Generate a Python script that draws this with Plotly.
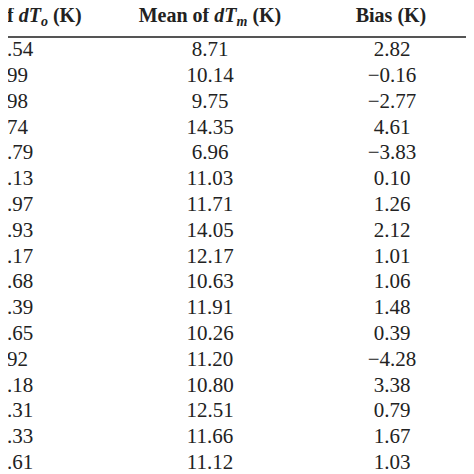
import plotly.graph_objects as go

# visible (cropped) first column, model mean, bias
obs_tail = [".54", "99", "98", "74", ".79", ".13", ".97", ".93", ".17",
            ".68", ".39", ".65", "92", ".18", ".31", ".33", ".61"]
mean_m = [8.71, 10.14, 9.75, 14.35, 6.96, 11.03, 11.71, 14.05, 12.17,
          10.63, 11.91, 10.26, 11.20, 10.80, 12.51, 11.66, 11.12]
bias = [2.82, -0.16, -2.77, 4.61, -3.83, 0.10, 1.26, 2.12, 1.01,
        1.06, 1.48, 0.39, -4.28, 3.38, 0.79, 1.67, 1.03]
headers = ["f <i>dT<sub>o</sub></i> (K)", "Mean of <i>dT<sub>m</sub></i> (K)", "Bias (K)"]

FONT = "Liberation Serif"
rows = list(range(1, len(mean_m) + 1))
y_of = lambda r: 43 + (r - 1) * 25.8


def fmt(v):
    s = f"{abs(v):.2f}"
    return ("\u2212" + s) if v < 0 else s


fig = go.Figure()

fig.add_trace(go.Scatter(
    x=[-1] * len(rows), y=[y_of(r) for r in rows], mode="text",
    text=obs_tail, textposition="middle right",
    textfont=dict(family=FONT, size=21, color="#222"), hoverinfo="skip"
))
fig.add_trace(go.Scatter(
    x=[202] * len(rows), y=[y_of(r) for r in rows], mode="text",
    text=[fmt(v) for v in mean_m], textposition="middle center",
    textfont=dict(family=FONT, size=21, color="#222"), hoverinfo="skip"
))
fig.add_trace(go.Scatter(
    x=[384] * len(rows), y=[y_of(r) for r in rows], mode="text",
    text=[fmt(v) for v in bias], textposition="middle center",
    textfont=dict(family=FONT, size=21, color="#222"), hoverinfo="skip"
))

# header row
fig.add_trace(go.Scatter(
    x=[-1], y=[9], mode="text", text=["<b>" + headers[0] + "</b>"],
    textposition="middle right",
    textfont=dict(family=FONT, size=20, color="#222"), hoverinfo="skip"
))
fig.add_trace(go.Scatter(
    x=[202, 383], y=[9, 9], mode="text",
    text=["<b>" + h + "</b>" for h in headers[1:]],
    textposition="middle center",
    textfont=dict(family=FONT, size=20, color="#222"), hoverinfo="skip"
))

fig.add_shape(type="line", x0=0, x1=474, y0=29, y1=29,
              line=dict(color="#555", width=2))

fig.update_layout(
    width=474, height=474,
    margin=dict(l=0, r=0, t=0, b=0),
    paper_bgcolor="white", plot_bgcolor="white",
    showlegend=False,
    xaxis=dict(range=[0, 474], visible=False, fixedrange=True),
    yaxis=dict(range=[474, 0], visible=False, fixedrange=True),
)

fig.write_html("out.html")
